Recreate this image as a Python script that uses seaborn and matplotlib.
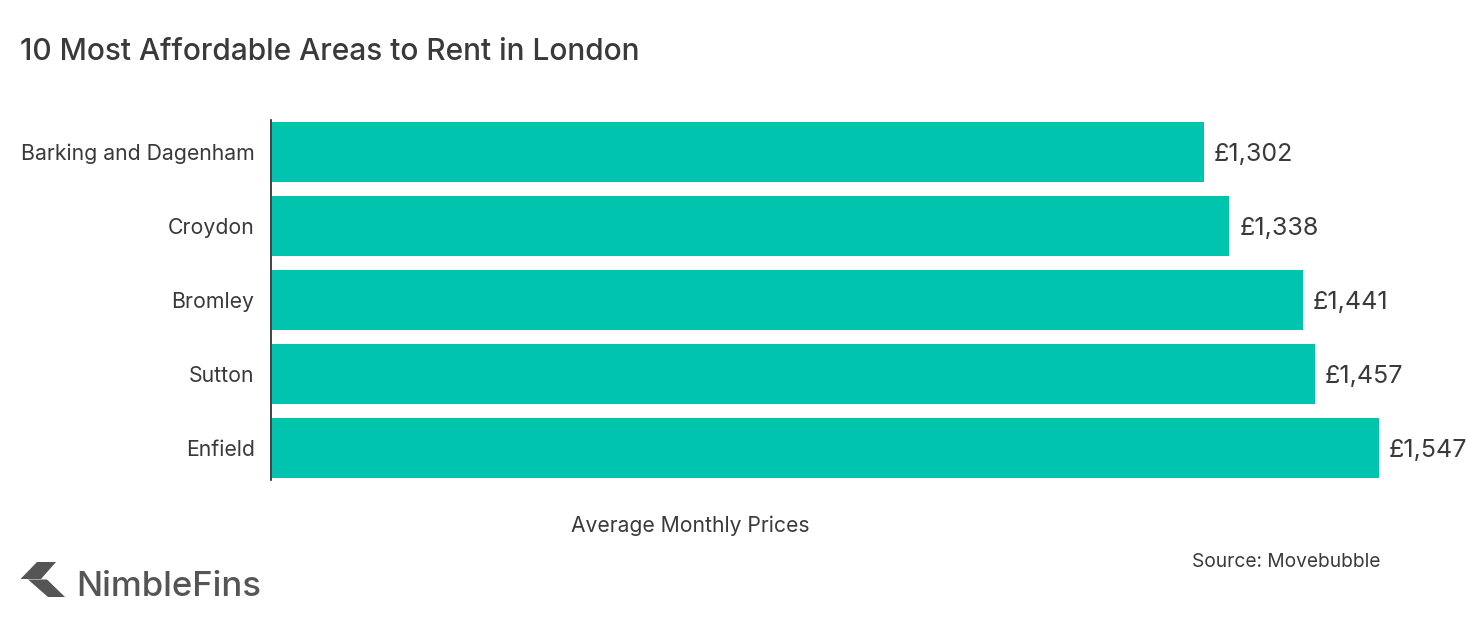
import matplotlib
matplotlib.use("Agg")
import matplotlib.pyplot as plt
from matplotlib.patches import Polygon
import pandas as pd
import seaborn as sns

AREAS = ["Barking and Dagenham", "Croydon", "Bromley", "Sutton", "Enfield"]
PRICES = [1302, 1338, 1441, 1457, 1547]
LABELS = ["£1,302", "£1,338", "£1,441", "£1,457", "£1,547"]

TEAL = "#00c4ad"
DARK = "#3a3a3a"
GREY = "#555555"
W, H = 1466, 628


def add_logo_piece(fig, points):
    fig.add_artist(Polygon([(x / W, 1 - y / H) for x, y in points], closed=True,
                           transform=fig.transFigure, color=GREY, lw=0))


def main():
    sns.set_theme(style="white")
    plt.rcParams['font.family'] = ['Inter', 'DejaVu Sans']

    df = pd.DataFrame({"area": AREAS, "price": PRICES})

    fig = plt.figure(figsize=(W / 100, H / 100), dpi=100)
    ax = fig.add_axes([272 / W, 1 - 485 / H, (1379 - 272) / W, 370 / H])

    sns.barplot(data=df, x="price", y="area", color=TEAL, saturation=1,
                width=60 / 74, linewidth=0, ax=ax)

    ax.set_xlim(0, 1547)
    ax.set_xlabel("")
    ax.set_ylabel("")
    ax.set_xticks([])
    ax.tick_params(axis="y", length=0, pad=12, labelsize=15.3, labelcolor=DARK)
    for side in ["top", "right", "bottom"]:
        ax.spines[side].set_visible(False)
    ax.spines["left"].set_color("#222222")
    ax.spines["left"].set_linewidth(1.2)
    ax.spines["left"].set_position(("outward", 0.6))
    ax.spines["left"].set_bounds(-0.43, 4.43)

    value_labels = ax.bar_label(ax.containers[0], labels=LABELS, padding=7,
                                fontsize=18, color=DARK, clip_on=False)
    for label in value_labels:
        label.xyann = (7, -2)

    fig.text(20 / W, 1 - 52 / H, "10 Most Affordable Areas to Rent in London",
             fontsize=21.5, fontweight="medium", color=DARK, va="center")
    fig.text(690 / W, 1 - 526 / H, "Average Monthly Prices", fontsize=15.2,
             color=DARK, ha="center", va="center")
    fig.text(1380 / W, 1 - 562 / H, "Source: Movebubble", fontsize=13.8,
             color=DARK, ha="right", va="center")

    # logo
    fig.text(76 / W, 1 - 587 / H, "NimbleFins", fontsize=25, fontweight="medium",
             color=GREY, va="center")
    add_logo_piece(fig, [(20.5, 579), (37, 562), (56, 562), (41, 579)])
    add_logo_piece(fig, [(28, 579.5), (47, 579.5), (65, 597), (48, 597)])

    fig.savefig("out.png", dpi=100)


if __name__ == '__main__':
    main()
